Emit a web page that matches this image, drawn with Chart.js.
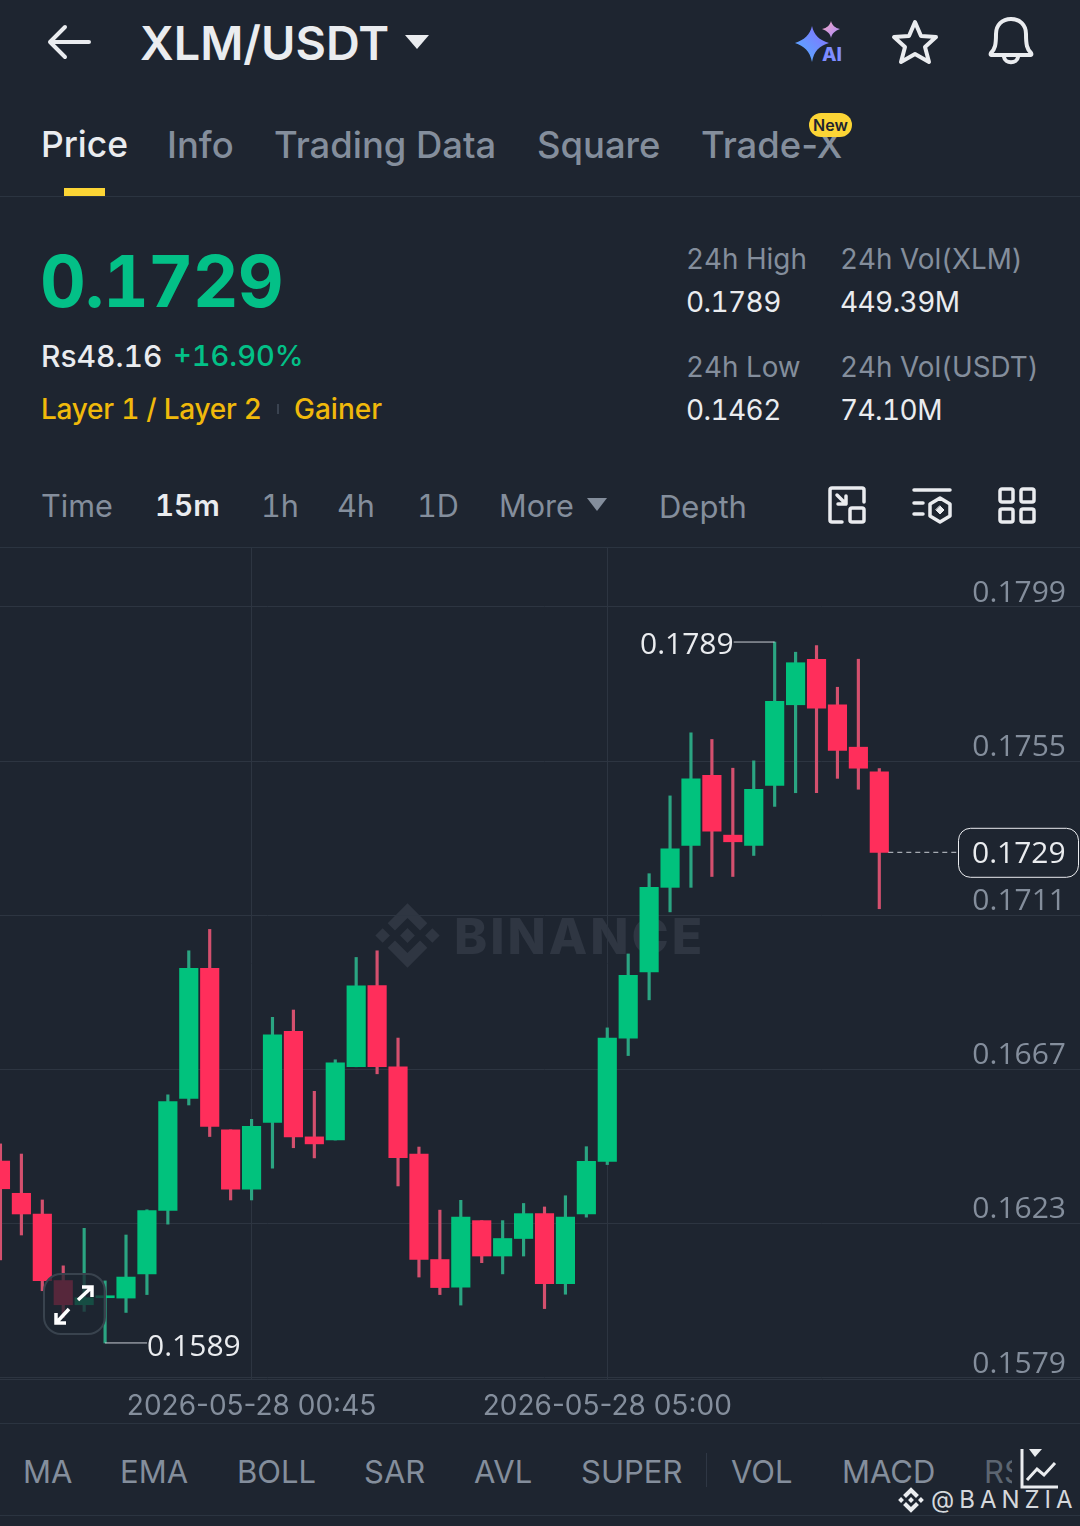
<!DOCTYPE html>
<html>
<head>
<meta charset="utf-8">
<title>XLM/USDT</title>
<script src="https://cdn.jsdelivr.net/npm/chart.js@4/dist/chart.umd.min.js"></script>
<style>
  html, body { margin: 0; padding: 0; background: #1e2530; }
  body { position: relative; width: 1080px; height: 1526px; overflow: hidden; font-family: Inter, Roboto, sans-serif; font-variant-numeric: tabular-nums; color: #848e9c; }
  .t { position: absolute; white-space: nowrap; line-height: 1; transform: translateY(-50%); }
  .w { color: #eaecef; }
  .hr { position: absolute; left: 0; width: 1080px; height: 1px; background: #2b3440; }
  svg { position: absolute; overflow: visible; }
  #wrap { position: absolute; left: 0; top: 548px; width: 1080px; height: 876px; overflow: hidden; }
  #chart { position: absolute; left: -10px; top: 0; font-variant-numeric: normal; }
  .tab { font-size: 36.4px; font-weight: 500; top: 145px; font-variant-numeric: normal; }
  .stat { font-size: 27.8px; }
  .num { font-size: 28px; letter-spacing: -0.6px; }
  .row { font-size: 30.6px; top: 506px; }
  .ind { font-size: 31px; top: 1471px; }
</style>
</head>
<body>

<!-- header -->
<svg style="left:48px;top:24px" width="44" height="36" fill="none" stroke="#eaecef" stroke-width="4" stroke-linecap="round" stroke-linejoin="round"><path d="M2 18H41M17 3L2 18L17 33"/></svg>
<div class="t w" style="left:140px;top:43px;font-size:46.8px;font-weight:600">XLM/USDT</div>
<svg style="left:405px;top:35px" width="24" height="14"><path d="M0 0H24L12 14Z" fill="#eaecef"/></svg>
<svg style="left:794px;top:20px" width="50" height="44" viewBox="0 0 50 44">
  <defs><linearGradient id="ai" x1="0" y1="1" x2="1" y2="0"><stop offset="0" stop-color="#4fb4ff"/><stop offset="1" stop-color="#8a6bff"/></linearGradient>
  <linearGradient id="ai2" x1="0" y1="0" x2="1" y2="1"><stop offset="0" stop-color="#f7a8c0"/><stop offset="1" stop-color="#a78bff"/></linearGradient></defs>
  <path d="M18 6C20 15 25 20 35 23C25 26 20 31 18 42C16 31 10 26 1 23C10 20 16 15 18 6Z" fill="url(#ai)"/>
  <path d="M37 1C38 5 41 8 46 9C41 11 38 13 37 18C36 13 33 11 28 9C33 8 36 5 37 1Z" fill="url(#ai2)"/>
  <text x="28" y="41" font-family="Inter" font-weight="800" font-size="19" fill="#7d8cff">AI</text>
</svg>
<svg style="left:892px;top:20px" width="46" height="44" viewBox="0 0 46 44"><path d="M23 2L29 16L44 17L33 27L37 42L23 34L9 42L13 27L2 17L17 16Z" fill="none" stroke="#eaecef" stroke-width="4" stroke-linejoin="round"/></svg>
<svg style="left:988px;top:17px" width="46" height="50" viewBox="0 0 46 50" fill="none" stroke="#eaecef" stroke-width="4" stroke-linecap="round" stroke-linejoin="round"><path d="M3 36C7 32 8 28 8 17C8 8 14 2 23 2C32 2 38 8 38 17C38 28 39 32 43 36C44 38 43 38 41 38H5C3 38 2 38 3 36Z"/><path d="M16 40C17 47 29 47 30 40"/></svg>

<!-- tabs -->
<div class="t tab w" style="left:41px;font-size:35.4px">Price</div>
<div class="t tab" style="left:167px">Info</div>
<div class="t tab" style="left:274px">Trading Data</div>
<div class="t tab" style="left:537px">Square</div>
<div class="t tab" style="left:701px">Trade-X</div>
<div style="position:absolute;left:809px;top:113px;width:43px;height:24px;border-radius:12px;background:#fcd535;color:#1e2530;font-size:16px;font-weight:600;line-height:24px;text-align:center">New</div>
<div style="position:absolute;left:64px;top:188px;width:41px;height:8px;background:#fcd535"></div>
<div class="hr" style="top:196px"></div>

<!-- price block -->
<div class="t" style="left:40px;top:281px;font-size:71px;font-weight:700;letter-spacing:-1px;color:#03c087">0.1729</div>
<div class="t w" style="left:41px;top:356px;font-size:30px;font-weight:500">Rs48.16</div>
<div class="t" style="left:173px;top:355px;font-size:29px;font-weight:500;color:#03c087">+16.90%</div>
<div class="t" style="left:41px;top:409px;font-size:28px;font-weight:500;letter-spacing:-0.25px;color:#f0b90b">Layer 1 / Layer 2</div>
<div style="position:absolute;left:277px;top:404px;width:2px;height:10px;background:#3a4350"></div>
<div class="t" style="left:294px;top:409px;font-size:28px;font-weight:500;color:#f0b90b">Gainer</div>

<div class="t stat" style="left:686px;top:260px">24h High</div>
<div class="t num w" style="left:686px;top:302px">0.1789</div>
<div class="t stat" style="left:686px;top:368px">24h Low</div>
<div class="t num w" style="left:686px;top:410px">0.1462</div>
<div class="t stat" style="left:840px;top:260px">24h Vol(XLM)</div>
<div class="t num w" style="left:840px;top:302px">449.39M</div>
<div class="t stat" style="left:840px;top:368px">24h Vol(USDT)</div>
<div class="t num w" style="left:840px;top:410px">74.10M</div>

<!-- interval row -->
<div class="t row" style="left:41px">Time</div>
<div class="t row w" style="left:155px;font-weight:600;font-size:29.5px">15m</div>
<div class="t row" style="left:261px">1h</div>
<div class="t row" style="left:337px">4h</div>
<div class="t row" style="left:417px">1D</div>
<div class="t row" style="left:499px">More</div>
<svg style="left:587px;top:498px" width="20" height="13"><path d="M0 0H20L10 13Z" fill="#848e9c"/></svg>
<div class="t row" style="left:659px;font-size:31px">Depth</div>
<svg style="left:828px;top:486px" width="38" height="38" fill="none" stroke="#eaecef" stroke-width="3.5" stroke-linecap="round" stroke-linejoin="round"><path d="M14 36H4C2 36 2 35 2 34V4C2 2 3 2 4 2H34C36 2 36 3 36 4V16"/><rect x="22" y="22" width="14" height="14" rx="2"/><path d="M9 9L18 18M18 10V18H10"/></svg>
<svg style="left:912px;top:488px" width="40" height="36" fill="none" stroke="#eaecef" stroke-width="3.5" stroke-linecap="round" stroke-linejoin="round"><path d="M2 2H38M2 15H11M2 26H11M28 10L38 16V28L28 34L18 28V16Z"/><path d="M28 18L32 22L28 26L24 22Z" fill="#eaecef" stroke-width="1"/></svg>
<svg style="left:998px;top:487px" width="38" height="37" fill="none" stroke="#eaecef" stroke-width="3.5"><rect x="2" y="2" width="13" height="13" rx="2"/><rect x="23" y="2" width="13" height="13" rx="2"/><rect x="2" y="22" width="13" height="13" rx="2"/><rect x="23" y="22" width="13" height="13" rx="2"/></svg>
<div class="hr" style="top:547px"></div>

<!-- watermark under the chart -->
<svg style="left:375px;top:903px" width="65" height="65" viewBox="0 0 126 126"><path fill="#2f3642" d="M38.73 53.2L63 28.93l24.28 24.28 14.12-14.12L63 .69 24.6 39.09zM.69 63l14.12-14.12L28.93 63 14.81 77.12zM38.73 72.8L63 97.07l24.28-24.28 14.13 14.11L63 125.31 24.6 86.91l-.02-.02zM97.07 63l14.12-14.12L125.31 63l-14.12 14.12zM77.33 63L63 48.67 52.4 59.27l-1.22 1.22-2.51 2.51L63 77.33 77.33 63z"/></svg>
<div class="t" style="left:454px;top:936px;font-size:50px;font-weight:800;letter-spacing:3px;color:#2f3642">BINANCE</div>

<div id="wrap"><canvas id="chart" width="1109" height="876" style="width:1109px;height:876px"></canvas></div>

<!-- expand button -->
<div style="position:absolute;left:43px;top:1273px;width:59px;height:58px;border:2px solid #39434e;border-radius:18px;background:rgba(30,37,48,.75)"></div>
<svg style="left:54px;top:1285px" width="40" height="40" fill="none" stroke="#fff" stroke-width="3.5"><path d="M24 15L38 2M28 2H38V12M15 24L2 38M2 28V38H12"/></svg>

<!-- indicators -->
<div class="hr" style="top:1423px"></div>
<div class="t ind" style="left:23px">MA</div>
<div class="t ind" style="left:120px">EMA</div>
<div class="t ind" style="left:237px">BOLL</div>
<div class="t ind" style="left:364px">SAR</div>
<div class="t ind" style="left:474px">AVL</div>
<div class="t ind" style="left:581px">SUPER</div>
<div style="position:absolute;left:706px;top:1453px;width:1px;height:34px;background:#2f3744"></div>
<div class="t ind" style="left:731px">VOL</div>
<div class="t ind" style="left:842px">MACD</div>
<div class="t ind" style="left:984px;color:#5c6571">RS</div>
<div style="position:absolute;left:1012px;top:1445px;width:68px;height:50px;background:#1e2530"></div>
<svg style="left:1020px;top:1449px" width="40" height="40" fill="none" stroke="#eaecef" stroke-width="3"><path d="M2 0V38H38"/><path d="M7 31L17 20L24 26L35 14" /><path d="M9 0H22L15 8Z" fill="#eaecef" stroke="none"/></svg>
<svg style="left:898px;top:1487px" width="26" height="26" viewBox="0 0 126 126"><path fill="#eaecef" d="M38.73 53.2L63 28.93l24.28 24.28 14.12-14.12L63 .69 24.6 39.09zM.69 63l14.12-14.12L28.93 63 14.81 77.12zM38.73 72.8L63 97.07l24.28-24.28 14.13 14.11L63 125.31 24.6 86.91l-.02-.02zM97.07 63l14.12-14.12L125.31 63l-14.12 14.12zM77.33 63L63 48.67 52.4 59.27l-1.22 1.22-2.51 2.51L63 77.33 77.33 63z"/></svg>
<div class="t" style="left:931px;top:1500px;font-size:24px;letter-spacing:5px;color:#d5d8dc">@BANZIA</div>
<div class="hr" style="top:1515px"></div>

<script>
const categories = [
  '2026-05-27 21:45', '2026-05-27 22:00', '2026-05-27 22:15', '2026-05-27 22:30', '2026-05-27 22:45',
  '2026-05-27 23:00', '2026-05-27 23:15', '2026-05-27 23:30', '2026-05-27 23:45', '2026-05-28 00:00',
  '2026-05-28 00:15', '2026-05-28 00:30', '2026-05-28 00:45', '2026-05-28 01:00', '2026-05-28 01:15',
  '2026-05-28 01:30', '2026-05-28 01:45', '2026-05-28 02:00', '2026-05-28 02:15', '2026-05-28 02:30',
  '2026-05-28 02:45', '2026-05-28 03:00', '2026-05-28 03:15', '2026-05-28 03:30', '2026-05-28 03:45',
  '2026-05-28 04:00', '2026-05-28 04:15', '2026-05-28 04:30', '2026-05-28 04:45', '2026-05-28 05:00',
  '2026-05-28 05:15', '2026-05-28 05:30', '2026-05-28 05:45', '2026-05-28 06:00', '2026-05-28 06:15',
  '2026-05-28 06:30', '2026-05-28 06:45', '2026-05-28 07:00', '2026-05-28 07:15', '2026-05-28 07:30',
  '2026-05-28 07:45', '2026-05-28 08:00', '2026-05-28 08:15',
  // empty room to the right of the last candle
  '', '', '', '', '', '', '', '', '', ''
]
const openValues = [
  0.16409, 0.16317, 0.16258, 0.16068, 0.15999, 0.16019, 0.16018, 0.16087, 0.16268, 0.16588,
  0.16959, 0.16498, 0.16329, 0.16519, 0.16779, 0.16478, 0.16469, 0.16678, 0.16910, 0.16678,
  0.16429, 0.16128, 0.16049, 0.16239, 0.16138, 0.16188, 0.16259, 0.16059, 0.16258, 0.16408,
  0.16760, 0.16949, 0.17190, 0.17310, 0.17510, 0.17339, 0.17310, 0.17481, 0.17711, 0.17841,
  0.17711, 0.17590, 0.17520
]
const closeValues = [
  0.16330, 0.16258, 0.16068, 0.15999, 0.16019, 0.16024, 0.16078, 0.16268, 0.16579, 0.16959,
  0.16508, 0.16329, 0.16508, 0.16769, 0.16478, 0.16458, 0.16689, 0.16909, 0.16678, 0.16419,
  0.16128, 0.16048, 0.16249, 0.16138, 0.16188, 0.16259, 0.16059, 0.16249, 0.16408, 0.16760,
  0.16939, 0.17190, 0.17300, 0.17500, 0.17350, 0.17320, 0.17470, 0.17721, 0.17831, 0.17701,
  0.17581, 0.17530, 0.17290
]
const highValues = [
  0.16458, 0.16429, 0.16298, 0.16110, 0.16217, 0.16067, 0.16198, 0.16270, 0.16598, 0.17009,
  0.17070, 0.16498, 0.16528, 0.16819, 0.16840, 0.16608, 0.16698, 0.16990, 0.17009, 0.16760,
  0.16449, 0.16269, 0.16297, 0.16239, 0.16239, 0.16288, 0.16278, 0.16310, 0.16450, 0.16789,
  0.17000, 0.17229, 0.17451, 0.17631, 0.17612, 0.17530, 0.17551, 0.17890, 0.17861, 0.17880,
  0.17761, 0.17841, 0.17529
]
const lowValues = [
  0.16127, 0.16198, 0.16039, 0.15962, 0.15980, 0.15890, 0.15977, 0.16028, 0.16229, 0.16569,
  0.16479, 0.16298, 0.16298, 0.16389, 0.16447, 0.16418, 0.16469, 0.16678, 0.16658, 0.16338,
  0.16078, 0.16028, 0.15998, 0.16119, 0.16087, 0.16138, 0.15988, 0.16029, 0.16249, 0.16399,
  0.16710, 0.16869, 0.17120, 0.17190, 0.17221, 0.17221, 0.17281, 0.17421, 0.17460, 0.17460,
  0.17501, 0.17470, 0.17129
]
const yTicks = [0.1799, 0.1755, 0.1711, 0.1667, 0.1623, 0.1579]
const xTickLabels = ['2026-05-28 00:45', '2026-05-28 05:00']
const lastPrice = 0.1729
const maxPrice = 0.1789
const minPrice = 0.1589

const upColor = '#01c27d'
const downColor = '#ff2e5b'
const upWick = '#2ba582'
const downWick = '#d4506e'
const gridColor = '#2d3541'

const isUp = closeValues.map((c, i) => c >= openValues[i])

// price tags on the chart, positions always come from the scales
const priceMarks = {
  id: 'priceMarks',
  afterDatasetsDraw(chart) {
    const { ctx, scales: { x, y } } = chart
    ctx.save()
    ctx.font = '30px "Open Sans", sans-serif'
    ctx.textBaseline = 'middle'
    ctx.strokeStyle = '#c9ced4'
    ctx.fillStyle = '#eaecef'
    ctx.lineWidth = 1

    const hi = y.getPixelForValue(maxPrice)
    const hiX = x.getPixelForValue(highValues.indexOf(maxPrice))
    ctx.beginPath()
    ctx.moveTo(hiX, hi)
    ctx.lineTo(hiX - 41, hi)
    ctx.stroke()
    ctx.textAlign = 'right'
    ctx.fillText(maxPrice.toFixed(4), hiX - 41, hi + 3)

    const lo = y.getPixelForValue(minPrice)
    const loX = x.getPixelForValue(lowValues.indexOf(minPrice))
    ctx.beginPath()
    ctx.moveTo(loX, lo)
    ctx.lineTo(loX + 42, lo)
    ctx.stroke()
    ctx.textAlign = 'left'
    ctx.fillText(minPrice.toFixed(4), loX + 42, lo + 5)

    const now = y.getPixelForValue(lastPrice)
    const nowX = x.getPixelForValue(closeValues.length - 1)
    ctx.setLineDash([5, 4])
    ctx.beginPath()
    ctx.moveTo(nowX + 9, now)
    ctx.lineTo(968, now)
    ctx.stroke()
    ctx.setLineDash([])
    ctx.beginPath()
    ctx.roundRect(968.5, now - 24, 120, 49, 12)
    ctx.fillStyle = '#1e2530'
    ctx.fill()
    ctx.strokeStyle = '#eaecef'
    ctx.stroke()
    ctx.fillStyle = '#eaecef'
    ctx.fillText(lastPrice.toFixed(4), 982, now + 2)
    ctx.restore()
  }
}

new Chart(document.getElementById('chart'), {
  type: 'bar',
  data: {
    labels: categories,
    datasets: [
      {
        label: 'Wick',
        data: lowValues.map((l, i) => [l, highValues[i]]),
        backgroundColor: isUp.map(u => (u ? upWick : downWick)),
        barThickness: 2.5,
        grouped: false,
        order: 2
      },
      {
        label: 'Body',
        data: openValues.map((o, i) => [o, closeValues[i]]),
        backgroundColor: isUp.map(u => (u ? upColor : downColor)),
        barThickness: 18.5,
        grouped: false,
        minBarLength: 2,
        order: 1
      }
    ]
  },
  options: {
    responsive: false,
    animation: false,
    layout: { padding: 0 },
    plugins: { legend: { display: false }, tooltip: { enabled: false } },
    scales: {
      x: {
        offset: true,
        grid: { offset: false, color: gridColor, drawTicks: false },
        border: { display: true, color: gridColor },
        afterBuildTicks(scale) {
          scale.ticks = scale.ticks.filter(t => xTickLabels.includes(categories[t.value]))
        },
        afterFit(scale) {
          scale.height = 45
          scale.paddingLeft = 0
          scale.paddingRight = 0
        },
        ticks: {
          autoSkip: false,
          maxRotation: 0,
          padding: 11,
          color: '#848e9c',
          font: { family: 'Inter, Roboto, sans-serif', size: 28 },
          callback(value) { return categories[value] }
        }
      },
      y: {
        position: 'right',
        min: 0.157871,
        max: 0.1815835,
        grid: { color: gridColor, drawTicks: false },
        border: { display: false },
        afterBuildTicks(scale) { scale.ticks = yTicks.map(value => ({ value })) },
        afterFit(scale) {
          scale.width = 0
          scale.paddingTop = 0
          scale.paddingBottom = 0
        },
        ticks: {
          mirror: true,
          padding: -33,
          labelOffset: -14,
          color: '#848e9c',
          font: { family: '"Open Sans", sans-serif', size: 30 },
          callback(value) { return value.toFixed(4) }
        }
      }
    }
  },
  plugins: [priceMarks]
})
</script>
</body>
</html>
